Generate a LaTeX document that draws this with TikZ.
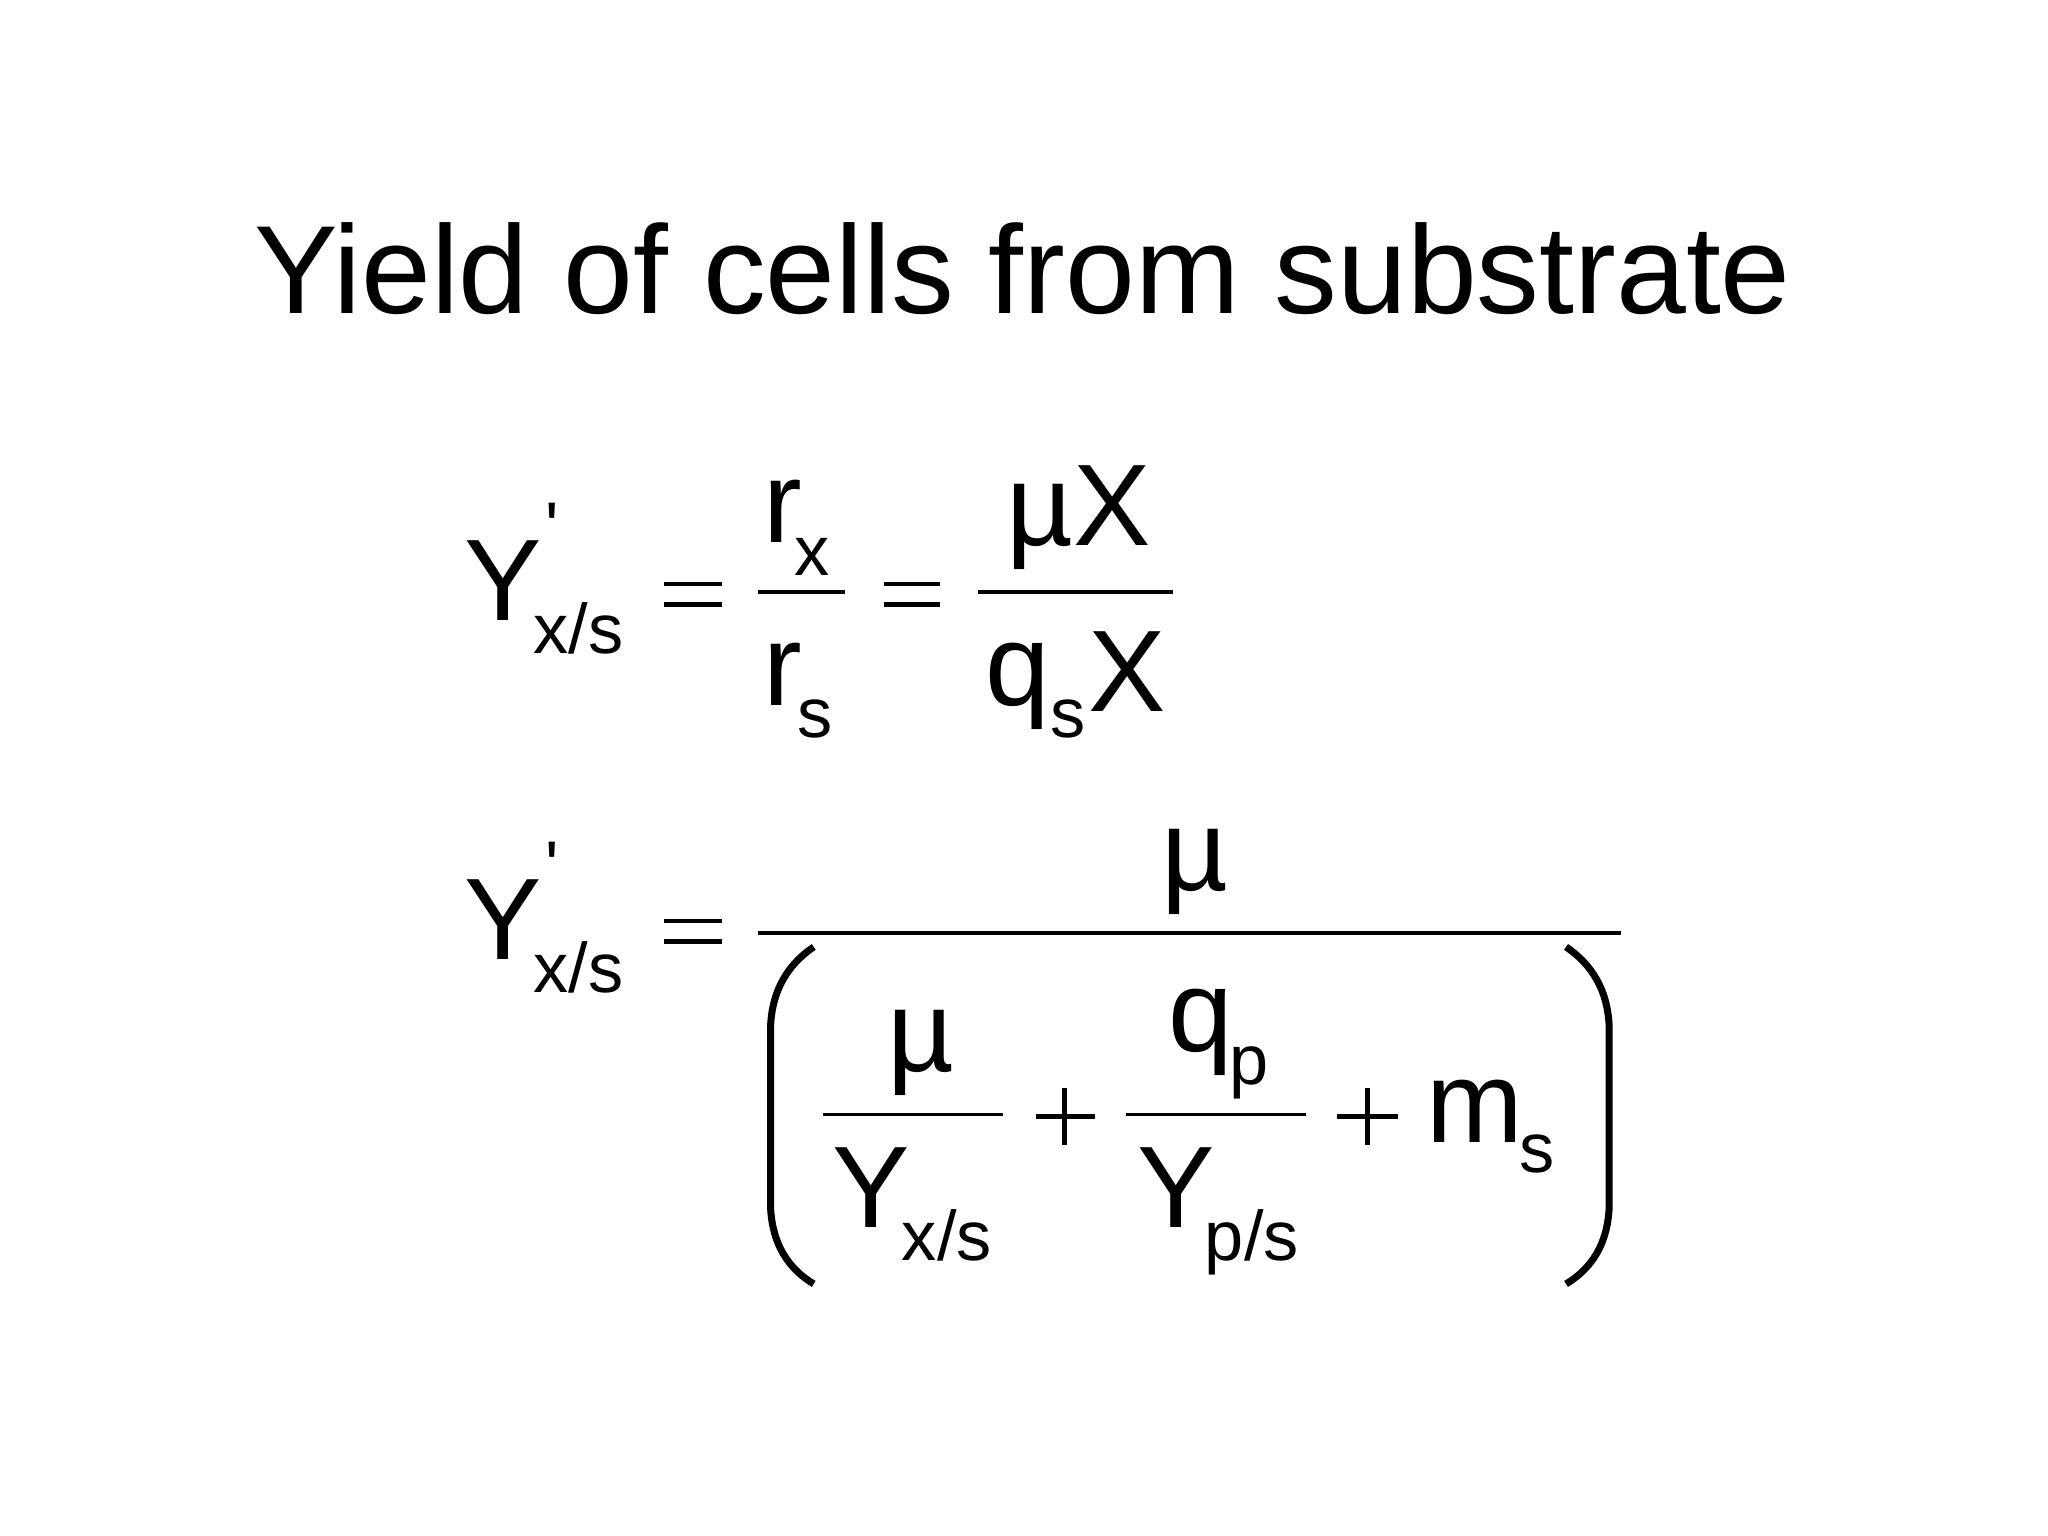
\documentclass[tikz,border=0pt]{standalone}
\usepackage{fontspec}
\setmainfont{Liberation Sans}
\begin{document}
\begin{tikzpicture}[x=0.01306cm,y=-0.01306cm,
  big/.style={anchor=base west,inner sep=0pt,font=\fontsize{33}{40}\selectfont},
  sub/.style={anchor=base west,inner sep=0pt,font=\fontsize{20}{24}\selectfont},
  ttl/.style={anchor=base,inner sep=0pt,font=\fontsize{35.7}{42}\selectfont},
  bar/.style={line width=1.1pt},
  eqline/.style={line width=1.3pt},
  paren/.style={line width=2pt}]
\useasboundingbox (0,0) rectangle (1568,1176);
\node[ttl] (title) at (783,240) {Yield of cells from substrate};
% equation 1
\node[big] (y1) at (355,475) {Y};
\node[sub] (p1) at (417,422) {\textquotesingle};
\node[sub] (s1) at (408,500) {x/s};
\draw[eqline] (508,447) -- (553,447) (508,463) -- (553,463);
\draw[bar] (580,453) -- (647,453);
\node[big] (rx) at (584,415) {r};
\node[sub] (rxs) at (608,441) {x};
\node[big] (rs) at (584,540) {r};
\node[sub] (rss) at (610,565) {s};
\draw[eqline] (677,447) -- (720,447) (677,463) -- (720,463);
\draw[bar] (749,453) -- (898,453);
\node[big] (mux) at (770,418) {µX};
\node[big] (qs) at (754,540) {q};
\node[sub] (qss) at (804,565) {s};
\node[big] (qx) at (833,545) {X};
% equation 2
\node[big] (y2) at (355,735) {Y};
\node[sub] (p2) at (417,682) {\textquotesingle};
\node[sub] (s2) at (408,760) {x/s};
\draw[eqline] (508,705) -- (553,705) (508,721) -- (553,721);
\draw[bar] (580,714) -- (1241,714);
\node[big] (mu) at (889,682) {µ};
\draw[paren] (623,725) .. controls (598,742) and (591,765) .. (590,785) -- (590,925) .. controls (591,945) and (598,968) .. (623,983);
\draw[paren] (1199,725) .. controls (1224,742) and (1231,765) .. (1232,785) -- (1232,925) .. controls (1231,945) and (1224,968) .. (1199,983);
\draw[line width=0.8pt] (630,853) -- (768,853);
\node[big] (mu2) at (679,820) {µ};
\node[big] (y3) at (637,940) {Y};
\node[sub] (s3) at (690,965) {x/s};
\draw[eqline] (793,855) -- (838,855) (815,833) -- (815,877);
\draw[line width=0.8pt] (862,853) -- (1000,853);
\node[big] (q) at (894,805) {q};
\node[sub] (qp) at (941,830) {p};
\node[big] (y4) at (870,940) {Y};
\node[sub] (s4) at (922,965) {p/s};
\draw[eqline] (1024,855) -- (1070,855) (1047,833) -- (1047,877);
\node[big] (m) at (1092,875) {m};
\node[sub] (ms) at (1163,898) {s};
\end{tikzpicture}
\end{document}
